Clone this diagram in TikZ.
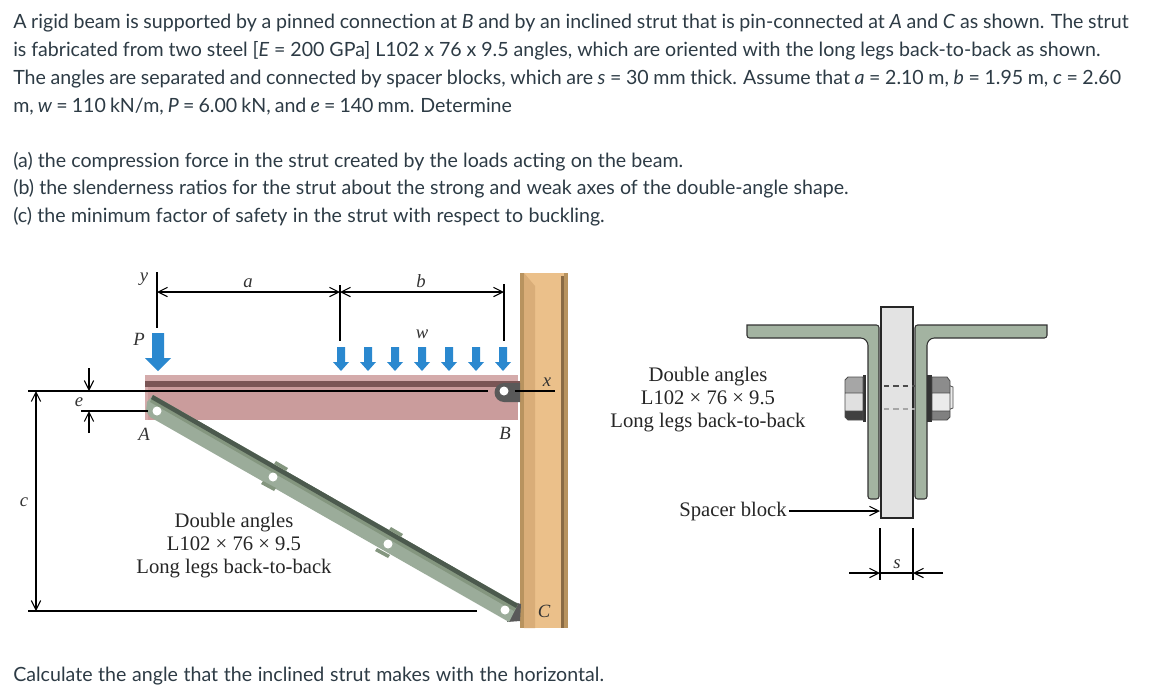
\documentclass[tikz,border=0pt]{standalone}
\usepackage{fontspec}
\setmainfont{Lato}
\newfontfamily\serifdia{Liberation Serif}
\usetikzlibrary{arrows.meta}
\definecolor{txt}{HTML}{2D3B45}
\definecolor{blu}{HTML}{2A88CF}
\definecolor{pinkb}{HTML}{CA9C9C}
\definecolor{pinkl}{HTML}{D4ABAB}
\definecolor{pinkd}{HTML}{7A5555}
\definecolor{tana}{HTML}{B8935F}
\definecolor{tanb}{HTML}{EBC08A}
\definecolor{tanc}{HTML}{D9AD78}
\definecolor{tand}{HTML}{8A6B45}
\definecolor{grn}{HTML}{9BAC9A}
\definecolor{grnm}{HTML}{84967F}
\definecolor{grnd}{HTML}{4C5A4E}
\definecolor{secg}{HTML}{A3B3A1}
\definecolor{plate}{HTML}{E3E3E3}
\tikzset{
  para/.style={anchor=base west,inner sep=0pt,text=txt,font=\fontsize{14.7pt}{17pt}\selectfont},
  lab/.style={inner sep=0pt,anchor=base,font=\serifdia\itshape\fontsize{14pt}{16pt}\selectfont,text=black!80},
  captxt/.style={inner sep=0pt,anchor=base,font=\serifdia\fontsize{15.5pt}{17pt}\selectfont,text=black!85},
  dim/.style={draw=black,line width=0.8pt},
  dima/.style={dim,{Straight Barb[length=7pt,width=7pt]}-{Straight Barb[length=7pt,width=7pt]}},
  dime/.style={dim,-{Straight Barb[length=7pt,width=7pt]}},
  load/.style={fill=blu,draw=none},
  sect/.style={fill=secg,draw=black!80,line width=0.8pt},
}
\newcommand{\loadarrow}[1]{\fill[load] (#1-4,347) -- (#1+4,347) -- (#1+4,362) -- (#1+8,362) -- (#1,371) -- (#1-8,362) -- (#1-4,362) -- cycle;}
\newcommand{\wsp}[1]{\spaceskip=\dimexpr\fontdimen2\font+#1pt\relax}
\begin{document}
\begin{tikzpicture}[x=0.75pt,y=-0.75pt]
\useasboundingbox (0,0) rectangle (1165,696);
\fill[white] (0,0) rectangle (1165,696);
% text
\node[para] (t1) at (13,28) {\wsp{-0.23}A rigid beam is supported by a pinned connection at \textit{B} and by an inclined strut that is pin-connected at \textit{A} and \textit{C} as shown. The strut};
\node[para] (t2) at (13,56) {\wsp{-0.09}is fabricated from two steel [\textit{E} = 200 GPa] L102 x 76 x 9.5 angles, which are oriented with the long legs back-to-back as shown.};
\node[para] (t3) at (13,84) {\wsp{-0.32}The angles are separated and connected by spacer blocks, which are \textit{s} = 30 mm thick. Assume that \textit{a} = 2.10 m, \textit{b} = 1.95 m, \textit{c} = 2.60};
\node[para] (t4) at (13,112) {\wsp{-0.69}m, \textit{w} = 110 kN/m, \textit{P} = 6.00 kN, and \textit{e} = 140 mm. Determine};
\node[para] (t5) at (13,167) {\wsp{0.12}(a) the compression force in the strut created by the loads acting on the beam.};
\node[para] (t6) at (13,194) {\wsp{0.1}(b) the slenderness ratios for the strut about the strong and weak axes of the double-angle shape.};
\node[para] (t7) at (13,222) {\wsp{0.19}(c) the minimum factor of safety in the strut with respect to buckling.};
\node[para] (t8) at (13,681) {\wsp{0.45}Calculate the angle that the inclined strut makes with the horizontal.};
% beam
\fill[pinkb] (145,375) rectangle (518,420);
\fill[pinkl] (145,375) rectangle (518,381);
\fill[pinkl] (145,387) rectangle (148,420);
\fill[pinkd] (145,381) rectangle (520,387);
% column
\fill[tanb] (520,273) rectangle (568,628);
\fill[tana] (520,273) -- (524,273) -- (524,628) -- (520,628) -- cycle;
\fill[tanc] (524,273) -- (535,286) -- (535,628) -- (524,628) -- cycle;
\fill[tand] (561,276) rectangle (564,628);
\fill[tana] (564,273) rectangle (568,628);
% B bracket
\fill[black!65] (520,383) -- (504,383) arc[start angle=-90,end angle=-270,radius=9.5] -- (520,402) -- cycle;
% C gusset
\fill[black!65] (514,602) -- (521,604) -- (520,621) -- (507,622) -- cycle;
% strut
\fill[grn] (153,395) -- (518,604) -- (509,622) -- (150,417) -- (146,411) -- (147,402) -- cycle;
\fill[grnm] (153,395) -- (518,604) -- (514,611) -- (150,402) -- cycle;
\fill[grnd] (153,395) -- (518,604) -- (516,608) -- (151,399) -- cycle;
% spacer plates
\fill[grnm] (276,461) -- (288,468) -- (286,471) -- (274,464) -- cycle;
\fill[grnm] (263,481) -- (276,488) -- (274,491) -- (261,484) -- cycle;
\fill[grnm] (391,527) -- (403,534) -- (401,537) -- (389,530) -- cycle;
\fill[grnm] (377,548) -- (390,555) -- (388,558) -- (375,551) -- cycle;
% pin holes
\fill[white] (157,411) circle[radius=4.5];
\fill[white] (504,391) circle[radius=4.5];
\fill[white] (273,477) circle[radius=4.5];
\fill[white] (388,544) circle[radius=4.5];
\fill[white] (505,610) circle[radius=4.5];
% loads
\fill[load] (152,333) -- (164,333) -- (164,358) -- (171,358) -- (158,371) -- (145,358) -- (152,358) -- cycle;
\loadarrow{341}\loadarrow{368}\loadarrow{395}\loadarrow{422}\loadarrow{449}\loadarrow{476}\loadarrow{503}
% named coordinates for dimensions
\coordinate (ytop) at (157,272);
\coordinate (ybot) at (157,328);
\coordinate (dA) at (157,292);
\coordinate (dM) at (340,292);
\coordinate (dB) at (504,292);
\coordinate (mT) at (340,285);
\coordinate (mB) at (340,341);
\coordinate (bT) at (504,284);
\coordinate (bB) at (504,341);
\coordinate (xL) at (28,391);
\coordinate (xR) at (488,391);
\coordinate (xS) at (515,391);
\coordinate (xE) at (555,391);
\coordinate (cB) at (28,611);
\coordinate (cE) at (477,611);
\coordinate (cT) at (36,391);
\coordinate (cD) at (36,611);
\coordinate (eT) at (89,368);
\coordinate (e1) at (89,391);
\coordinate (e2) at (89,411);
\coordinate (eD) at (89,433);
\coordinate (eL) at (81,411);
\coordinate (eR) at (148,411);
\draw[dim] (ytop) -- (ybot);
\draw[dim] (mT) -- (mB);
\draw[dim] (bT) -- (bB);
\draw[dima] (dA) -- (dM);
\draw[dima] (dM) -- (dB);
\draw[dim] (xL) -- (xR);
\draw[dim] (xS) -- (xE);
\draw[dim] (cB) -- (cE);
\draw[dim] (eL) -- (eR);
\draw[dima] (cT) -- (cD);
\draw[dime] (eT) -- (e1);
\draw[dime] (eD) -- (e2);
% labels
\node[lab] (ly) at (144,281) {y};
\node[lab] (la) at (248,287) {a};
\node[lab] (lb) at (421,287) {b};
\node[lab] (lw) at (422,338) {w};
\node[lab] (lP) at (139,345) {P};
\node[lab] (le) at (79,406) {e};
\node[lab] (lA) at (144,440) {A};
\node[lab] (lB) at (505,439) {B};
\node[lab] (lx) at (547,386) {x};
\node[lab] (lC) at (544,617) {C};
\node[lab] (lc) at (24,506) {c};
\node[captxt] (d1) at (234,527) {Double angles};
\node[captxt] (d2) at (234,550) {L102 × 76 × 9.5};
\node[captxt] (d3) at (234,573) {Long legs back-to-back};
\node[captxt] (e1t) at (708,381) {Double angles};
\node[captxt] (e2t) at (708,404) {L102 × 76 × 9.5};
\node[captxt] (e3t) at (708,427) {Long legs back-to-back};
% section
\draw[sect] (879,325) -- (747,325) [rounded corners=2pt] -- (747,338) -- (858,338) .. controls (865,338) and (868,342) .. (868,348) -- (868,499) -- (879,499) -- cycle;
\draw[sect] (915,325) -- (1047,325) [rounded corners=2pt] -- (1047,338) -- (937,338) .. controls (930,338) and (927,342) .. (927,348) -- (927,499) -- (915,499) -- cycle;
\draw[fill=plate,line width=1pt,draw=black!85] (881,307) rectangle (913,518);
\draw[black!70,line width=0.8pt,dash pattern=on 4pt off 3pt] (884,386) -- (915,386);
\draw[black!35,line width=0.9pt,dash pattern=on 4pt off 3pt] (884,409) -- (915,409);
% left nut
\fill[black!80] (863,375) rectangle (866,422);
\fill[black!35] (845,380) -- (848,377) -- (863,377) -- (863,393) -- (845,393) -- cycle;
\fill[black!12] (845,393) rectangle (863,411);
\fill[black!75] (845,411) -- (863,411) -- (863,420) -- (848,420) -- (845,417) -- cycle;
\draw[black!70,line width=0.6pt] (845,380) -- (848,377) -- (863,377) -- (863,420) -- (848,420) -- (845,417) -- cycle (845,393) -- (863,393) (845,411) -- (863,411);
% right nut
\fill[black!80] (927,375) rectangle (932,422);
\draw[black!70,fill=black!8,line width=0.6pt] (948,385) -- (953,387) -- (953,408) -- (948,410) -- cycle;
\fill[black!45] (932,377) -- (947,377) -- (950,381) -- (950,393) -- (932,393) -- cycle;
\fill[black!8] (932,393) rectangle (950,411);
\fill[black!50] (932,411) -- (950,411) -- (950,417) -- (947,420) -- (932,420) -- cycle;
\draw[black!70,line width=0.6pt] (932,377) -- (947,377) -- (950,381) -- (950,417) -- (947,420) -- (932,420) -- cycle (932,393) -- (950,393) (932,411) -- (950,411);
% spacer callout and s
\node[captxt] (sp) at (733,516) {Spacer block};
\coordinate (spE) at (880,511);
\draw[dime] (sp.east |- spE) ++(2,0) coordinate (spS) -- (spE);
\coordinate (s1T) at (880,528);
\coordinate (s1B) at (880,580);
\coordinate (s2T) at (913,528);
\coordinate (s2B) at (913,580);
\coordinate (sL) at (849,573);
\coordinate (sA) at (880,573);
\coordinate (sB) at (913,573);
\coordinate (sR) at (943,573);
\draw[dim] (s1T) -- (s1B);
\draw[dim] (s2T) -- (s2B);
\draw[dime] (sL) -- (sA);
\draw[dime] (sR) -- (sB);
\draw[dim] (sA) -- (sB);
\node[lab] (ls) at (897,568) {s};
\end{tikzpicture}
\end{document}
